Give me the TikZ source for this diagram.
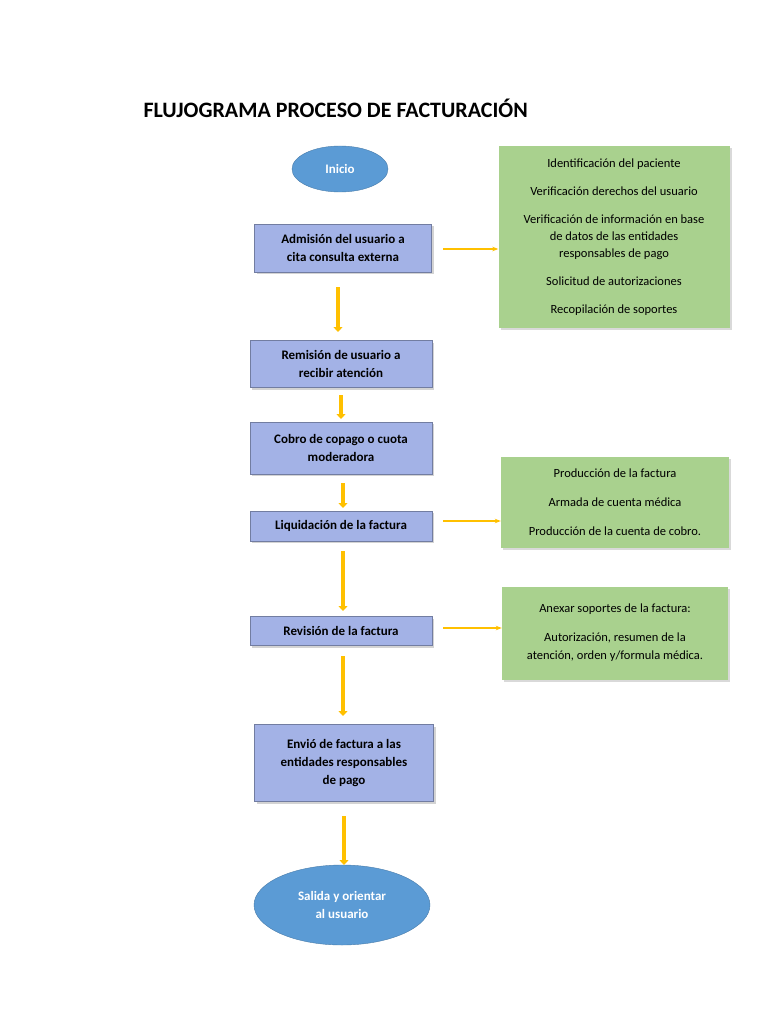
\documentclass[tikz,border=0pt]{standalone}
\usepackage{fontspec}
\setmainfont{Carlito}
\usetikzlibrary{shapes.geometric,arrows.meta,shadows}
\definecolor{boxblue}{HTML}{A3B2E6}
\definecolor{ovalblue}{HTML}{5B9BD5}
\definecolor{notegreen}{HTML}{A9D18E}
\definecolor{arrowgold}{HTML}{FFC000}
\begin{document}
\begin{tikzpicture}[x=1pt,y=-1pt,
step_style/.style={draw=boxblue!70!black,fill=boxblue,font=\bfseries\fontsize{13}{18}\selectfont,align=center,drop shadow={opacity=0.35},inner sep=2pt},
oval_style/.style={ellipse,draw=ovalblue!80!black,fill=ovalblue,text=white,font=\bfseries\fontsize{13}{18}\selectfont,align=center},
note_style/.style={fill=notegreen,drop shadow={opacity=0.3},font=\fontsize{12.5}{18}\selectfont,align=center},
flow_style/.style={draw=arrowgold,line width=4pt,-{Triangle[length=5pt,width=9pt]}},
side_style/.style={draw=arrowgold,line width=1.2pt,-{Stealth[length=6pt]}}]
\useasboundingbox (0,0) rectangle (768,1024);
\node[font=\bfseries\fontsize{22}{26}\selectfont,anchor=west] (title) at (140,108) {FLUJOGRAMA PROCESO DE FACTURACIÓN};

\node[oval_style,minimum width=96pt,minimum height=46pt] (inicio) at (340,169) {Inicio};
\node[step_style,minimum width=177pt,minimum height=48pt] (s1) at (343,248) {Admisión del usuario a\\cita consulta externa};
\node[step_style,minimum width=182pt,minimum height=47pt] (s2) at (341,364) {Remisión de usuario a\\recibir atención};
\node[step_style,minimum width=182pt,minimum height=52pt] (s3) at (341,448) {Cobro de copago o cuota\\moderadora};
\node[step_style,minimum width=182pt,minimum height=30pt] (s4) at (341,526) {Liquidación de la factura};
\node[step_style,minimum width=182pt,minimum height=29pt] (s5) at (341,631) {Revisión de la factura};
\node[step_style,minimum width=179pt,minimum height=77pt] (s6) at (344,763) {Envió de factura a las\\entidades responsables\\de pago};
\node[oval_style,minimum width=176pt,minimum height=80pt] (fin) at (342,905) {Salida y orientar\\al usuario};

\node[note_style,minimum width=231pt,minimum height=182pt,font=\fontsize{12.5}{17}\selectfont] (n1) at (614,237)
  {Identificación del paciente\\[11pt]Verificación derechos del usuario\\[11pt]Verificación de información en base\\de datos de las entidades\\responsables de pago\\[11pt]Solicitud de autorizaciones\\[11pt]Recopilación de soportes};
\node[note_style,minimum width=228pt,minimum height=91pt] (n2) at (615,502)
  {Producción de la factura\\[11pt]Armada de cuenta médica\\[11pt]Producción de la cuenta de cobro.};
\node[note_style,minimum width=226pt,minimum height=93pt] (n3) at (615,633)
  {Anexar soportes de la factura:\\[11pt]Autorización, resumen de la\\atención, orden y/formula médica.};

\coordinate (a1) at (338,287); \coordinate (b1) at (338,332);
\coordinate (a2) at (341,395); \coordinate (b2) at (341,419);
\coordinate (a3) at (343,483); \coordinate (b3) at (343,508);
\coordinate (a4) at (343,551); \coordinate (b4) at (343,611);
\coordinate (a5) at (343,656); \coordinate (b5) at (343,716);
\coordinate (a6) at (344,816); \coordinate (b6) at (344,865);
\foreach \i in {1,...,6} {\draw[flow_style] (a\i) -- (b\i);}

\draw[side_style] (443,249) -- (n1.west |- 0,249);
\draw[side_style] (443,521) -- (n2.west |- 0,521);
\draw[side_style] (443,628) -- (n3.west |- 0,628);
\end{tikzpicture}
\end{document}
